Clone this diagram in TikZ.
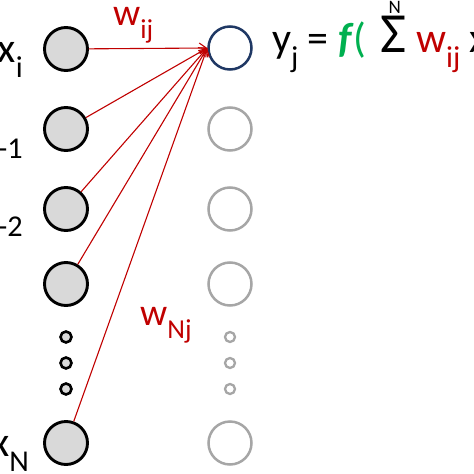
\documentclass[tikz,border=0pt]{standalone}
\usepackage{fontspec}
\setmainfont{Carlito}
\usepackage{graphicx}
\usetikzlibrary{arrows.meta}
\definecolor{wred}{HTML}{C00000}
\definecolor{fgreen}{HTML}{00B050}
\definecolor{outblue}{HTML}{1F3864}
\definecolor{idlegray}{HTML}{A6A6A6}
\definecolor{infill}{HTML}{D9D9D9}
\newcommand{\lowsub}[1]{\raisebox{-0.36em}{\scalebox{0.72}{#1}}}
\newcommand{\sumN}{\makebox[0pt][l]{\hspace{8pt}\raisebox{39pt}{\fontsize{19}{19}\selectfont N}}\scalebox{1.35}{Σ}}

\begin{document}
\begin{tikzpicture}[x=1pt, y=-1pt,
    every node/.style={inner sep=0pt},
    input/.style={draw, circle, line width=2.9pt, fill=infill, minimum size=43pt},
    indot/.style={draw, circle, line width=2.6pt, fill=infill, minimum size=11pt},
    output/.style={draw=outblue, circle, line width=2.5pt, fill=white, minimum size=43pt},
    idle/.style={draw=idlegray, circle, line width=2.5pt, minimum size=43pt},
    idledot/.style={draw=idlegray, circle, line width=2.3pt, minimum size=10pt},
    weight/.style={wred, line width=1.1pt, -{Straight Barb[length=7pt, width=10pt]}},
    lbl/.style={font=\fontsize{42}{48}\selectfont},
    wlbl/.style={text=wred, font=\fontsize{38}{44}\selectfont}]
    \clip (0,0) rectangle (474,474);

    % Input neurons
    \node[input] (in1) at (66,49) {};
    \node[input] (in2) at (66,129) {};
    \node[input] (in3) at (66,209) {};
    \node[input] (in4) at (66,284) {};
    \node[indot] (ind1) at (66,337) {};
    \node[indot] (ind2) at (66,363) {};
    \node[indot] (ind3) at (66,389) {};
    \node[input] (inN) at (66,443) {};

    % Input labels
    \node[lbl, anchor=base east] (xi) at (23,62) {x\lowsub{i}};
    \node[lbl, anchor=base east] (xi1) at (23,143) {x\lowsub{i-1}};
    \node[lbl, anchor=base east] (xi2) at (23,221) {x\lowsub{i-2}};
    \node[lbl, anchor=base east] (xN) at (29,456) {x\lowsub{N}};

    % Output neurons
    \node[output] (out) at (230,48) {};
    \node[idle] (o2) at (230,129) {};
    \node[idle] (o3) at (230,209) {};
    \node[idle] (o4) at (230,284) {};
    \node[idledot] (od1) at (230,337) {};
    \node[idledot] (od2) at (230,363) {};
    \node[idledot] (od3) at (230,389) {};
    \node[idle] (oN) at (230,443) {};

    % Weights
    \draw[weight] (in1) -- (out.west);
    \draw[weight] (in2) -- (out.west);
    \draw[weight] (in3) -- (out.west);
    \draw[weight] (in4) -- (out.west);
    \draw[weight] (inN) -- (out.west);
    \node[wlbl, anchor=base west] (wij) at (113,25) {w\lowsub{ij}};
    \node[wlbl, anchor=base west] (wNj) at (140,325) {w\lowsub{Nj}};

    % Output formula
    \node[lbl, anchor=base west] (eq) at (272,52) {y\lowsub{j} = \textcolor{fgreen}{\textbf{\textit{f}}(}\hspace{14pt}\sumN{} \textcolor{wred}{w\lowsub{ij}} x\lowsub{i}};
\end{tikzpicture}
\end{document}
